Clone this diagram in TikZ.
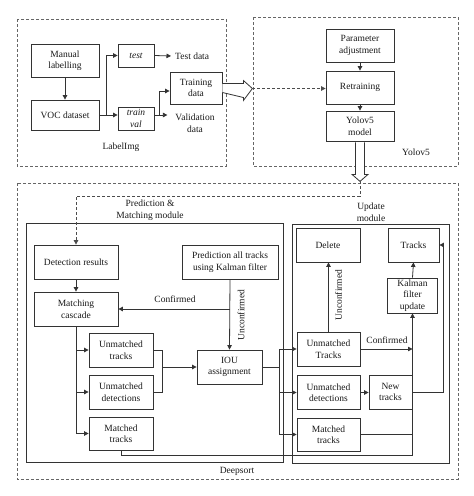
\documentclass[tikz,border=0pt]{standalone}
\usepackage{fontspec}
\setmainfont{Liberation Serif}
\usetikzlibrary{arrows.meta,calc}
\begin{document}
\begin{tikzpicture}[x=1pt,y=-1pt,
  every node/.style={font=\fontsize{9.5}{11.5}\selectfont, text=black!90},
  box/.style={draw=black!80, line width=0.8pt, align=center, inner sep=0pt},
  arr/.style={draw=black!80, line width=0.8pt, -{Triangle[length=4.5pt,width=4.5pt]}},
  ln/.style={draw=black!80, line width=0.8pt},
  dbox/.style={draw=black!60, line width=0.9pt, dash pattern=on 3pt off 2pt},
  darr/.style={draw=black!70, line width=0.8pt, dash pattern=on 3pt off 2pt, -{Triangle[length=4.5pt,width=4.5pt]}},
  hollow/.style={draw=black!80, line width=0.8pt, fill=white},
  lbl/.style={align=center, inner sep=0pt}
]
\useasboundingbox (0,0) rectangle (474,496);
\fill[white] (0,0) rectangle (474,496);

% ---------- LabelImg ----------
\draw[dbox] (17,19) rectangle (226,166);
\node[lbl] (lbimg) at (121,147) {LabelImg};
\node[box, minimum width=68pt, minimum height=33pt] (manual) at (65,60.5) {Manual\\labelling};
\node[box, minimum width=68pt, minimum height=30pt] (voc) at (65,115) {VOC dataset};
\node[box, minimum width=36pt, minimum height=23pt, font=\fontsize{9.5}{11.5}\selectfont\itshape] (test) at (136,55.5) {test};
\node[box, minimum width=36pt, minimum height=23pt, font=\fontsize{9.5}{11.5}\selectfont\itshape] (trainval) at (136,118.5) {train\\val};
\node[lbl, anchor=west] (testdata) at (175,56) {Test data};
\node[box, minimum width=52pt, minimum height=32pt] (training) at (196,88) {Training\\data};
\node[lbl] (valdata) at (195,123) {Validation\\data};

\draw[arr] (manual.south) -- (voc.north);
\draw[arr] (voc.east) -- ++(7,0) |- (test.west);
\draw[arr] (voc.east) -- (voc.east -| trainval.west);
\draw[arr] (test.east) -- ($(testdata.west)+(-4,0)$);
\draw[arr] ($(trainval.east)+(0,-3.5)$) -- ++(5,0) |- ($(training.west)+(0,3)$);
\draw[arr] ($(trainval.east)+(0,-3.5)$) -- ++(13,0);

% ---------- hollow arrow to Yolov5 ----------
\coordinate (tip1) at ($(training.east)+(30,0.5)$);
\draw[hollow] ($(training.east)+(0,-4.5)$) -- ++(21,0) -- ++(0,-3) -- (tip1) -- ($(training.east)+(21,12.5)$) -- ++(0,-3) -- ($(training.east)+(0,4.5)$);

% ---------- Yolov5 ----------
\draw[dbox] (253,17) rectangle (458,166);
\node[lbl] (yololbl) at (416,152) {Yolov5};
\node[box, minimum width=68pt, minimum height=33pt] (param) at (360,45.5) {Parameter\\adjustment};
\node[box, minimum width=68pt, minimum height=33pt] (retrain) at (360,87.5) {Retraining};
\node[box, minimum width=68pt, minimum height=30pt] (model) at (360,126) {Yolov5\\model};
\draw[arr] (param.south) -- (retrain.north);
\draw[arr] (retrain.south) -- (model.north);
\draw[darr] (tip1) -- (tip1 -| retrain.west);

% ---------- hollow arrow down ----------
\coordinate (tip2) at ($(model.south)+(0,40)$);
\draw[hollow] ($(model.south)+(-4.5,1)$) -- ++(0,32) -- ++(-3.5,0) -- (tip2) -- ($(model.south)+(8,33)$) -- ++(-3.5,0) -- ($(model.south)+(4.5,1)$);

% ---------- Deepsort ----------
\draw[dbox] (17,183) rectangle (458,479);
\node[lbl] (dslbl) at (237,471) {Deepsort};
\draw[ln] (26,223) rectangle (283,462);
\node[lbl] (pmlbl) at (150,210) {Prediction \&\\Matching module};
\draw[ln] (292,224) rectangle (449,463);
\node[lbl] (umlbl) at (371,212) {Update\\module};

\node[box, minimum width=84pt, minimum height=34pt] (det) at (76,262) {Detection results};
\node[box, minimum width=84pt, minimum height=34pt] (mc) at (76,309) {Matching\\cascade};
\node[box, minimum width=96pt, minimum height=34pt] (pred) at (230,262) {Prediction all tracks\\using Kalman filter};
\node[box, minimum width=65pt, minimum height=34pt] (iou) at (229.5,367) {IOU\\assignment};
\node[box, minimum width=64pt, minimum height=34pt] (ut) at (121,350) {Unmatched\\tracks};
\node[box, minimum width=64pt, minimum height=34pt] (ud) at (121,392) {Unmatched\\detections};
\node[box, minimum width=64pt, minimum height=33pt] (mt) at (121,433.5) {Matched\\tracks};

\node[box, minimum width=64pt, minimum height=34pt] (del) at (328,245) {Delete};
\node[box, minimum width=51pt, minimum height=34pt] (tracks) at (413.5,245) {Tracks};
\node[box, minimum width=50pt, minimum height=35pt] (kal) at (412.5,295.5) {Kalman\\filter\\update};
\node[box, minimum width=63pt, minimum height=34pt] (utr) at (328.5,349) {Unmatched\\Tracks};
\node[box, minimum width=63pt, minimum height=34pt] (udr) at (328.5,392.5) {Unmatched\\detections};
\node[box, minimum width=63pt, minimum height=33pt] (mtr) at (328.5,434.5) {Matched\\tracks};
\node[box, minimum width=43pt, minimum height=34pt] (newt) at (390.5,392) {New\\tracks};

% labels
\node[lbl, rotate=90] (unc1) at (241,315) {Unconfirmed};
\node[lbl, rotate=90] (unc2) at (338.5,295) {Unconfirmed};
\node[lbl] (conf1) at (175,299) {Confirmed};
\node[lbl] (conf2) at (387,340) {Confirmed};

% dashed link from Yolov5 to detection results
\draw[darr] (tip2) -- ++(0,15) -| (det.north);

\draw[arr] (det.south) -- (mc.north);
\draw[arr] (pred.south) -- (iou.north);
\draw[arr] (mc.east -| pred.south) -- (mc.east);

\draw[arr] (mc.south) |- (ut.west);
\draw[arr] (mc.south) |- (ud.west);
\draw[arr] (mc.south) |- (mt.west);

\coordinate (brk) at ($(ut.east)+(9,0)$);
\draw[ln] (ut.east) -- (brk) |- (ud.east);
\draw[arr] (brk |- iou.west) -- (iou.west);

\draw[arr] (iou.east) -- ++(17,0) |- (utr.west);
\draw[arr] (iou.east) -- ++(17,0) |- (udr.west);
\draw[arr] (iou.east) -- ++(17,0) |- (mtr.west);

\draw[arr] (mt.south) -- ++(0,5) -| (kal.south);
\draw[ln] (mtr.east) -- (mtr.east -| kal.south);
\draw[arr] (utr.east) -- (utr.east -| kal.south);
\draw[arr] (udr.east) -- (udr.east -| newt.west);
\draw[arr] (newt.east) -- ++(31,0) |- (tracks.east);
\draw[arr] (utr.north) -- (utr.north |- del.south);
\draw[arr] (kal.north) -- (tracks.south);
\end{tikzpicture}
\end{document}
